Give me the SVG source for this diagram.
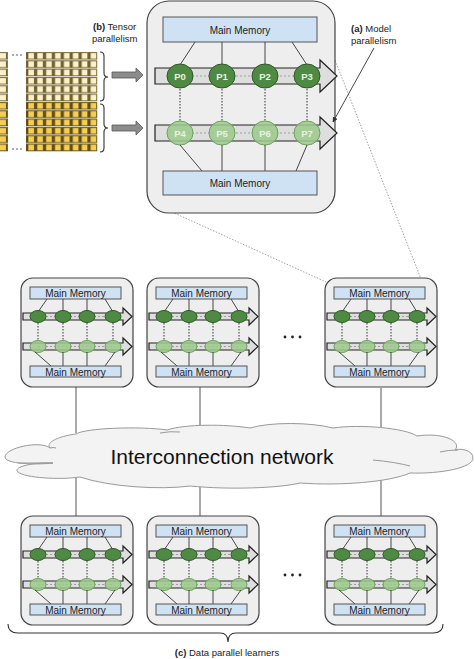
<svg xmlns="http://www.w3.org/2000/svg" width="474" height="659" viewBox="0 0 474 659">
<style>
.box{fill:#eeeeee;stroke:#444;stroke-width:1.2}
.mem{fill:#cfe2f3;stroke:#555;stroke-width:1}
.memt{font-family:"Liberation Sans",Arial,sans-serif;font-size:10px;fill:#222;text-anchor:middle}
.ln{stroke:#333;stroke-width:0.9;fill:none}
.arr{fill:#dedede;stroke:#222;stroke-width:1.2}
.dash{stroke:#999;stroke-width:0.9;stroke-dasharray:2 2;fill:none}
.dot{stroke:#333;stroke-width:1;stroke-dasharray:1.5 1.5;fill:none}
.pd{fill:#4f8a45;stroke:#2c5a22;stroke-width:1}
.pl{fill:#9cc98c;fill-opacity:0.85;stroke:#6aa35a;stroke-width:1}
.pt{font-family:"Liberation Sans",Arial,sans-serif;font-size:9.5px;font-weight:bold;fill:#e6f2e2;text-anchor:middle}
.lbl{font-family:"Liberation Sans",Arial,sans-serif;font-size:9.5px;fill:#222}
.zoom{stroke:#999;stroke-width:0.9;stroke-dasharray:1.5 1.5;fill:none}
.con{stroke:#555;stroke-width:1;fill:none}
.brace{stroke:#333;stroke-width:1.1;fill:none}
.garr{fill:#8c8c8c;stroke:#555;stroke-width:0.8}
</style>
<defs>
<pattern id="cellA" x="26" y="52" width="8.9" height="8.33" patternUnits="userSpaceOnUse">
<rect x="0.5" y="0.6" width="7.9" height="6.6" fill="#fdf1c9" stroke="#6b5a2a" stroke-width="0.9"/>
<rect x="0.5" y="0.6" width="1.8" height="6.6" fill="#6b5a2a"/>
</pattern>
<pattern id="cellB" x="26" y="52" width="8.9" height="8.33" patternUnits="userSpaceOnUse">
<rect x="0.5" y="0.6" width="7.9" height="6.6" fill="#f6cf52" stroke="#5a4810" stroke-width="0.9"/>
<rect x="0.5" y="0.6" width="1.8" height="6.6" fill="#5a4810"/>
</pattern>
<pattern id="cellAl" x="-2" y="52" width="8.9" height="8.33" patternUnits="userSpaceOnUse">
<rect x="0.5" y="0.6" width="7.9" height="6.6" fill="#fdf1c9" stroke="#6b5a2a" stroke-width="0.9"/>
</pattern>
<pattern id="cellBl" x="-2" y="52" width="8.9" height="8.33" patternUnits="userSpaceOnUse">
<rect x="0.5" y="0.6" width="7.9" height="6.6" fill="#f6cf52" stroke="#5a4810" stroke-width="0.9"/>
</pattern>
<marker id="ah" viewBox="0 0 10 10" refX="9" refY="5" markerWidth="6" markerHeight="6" orient="auto">
<path d="M0,0 L10,5 L0,10 Z" fill="#333"/>
</marker>
<g id="learner">
<rect class="box" x="0" y="0" width="112" height="109" rx="12"/>
<rect class="mem" x="9" y="9" width="91" height="12"/>
<text class="memt" x="54.5" y="18.8">Main Memory</text>
<path class="ln" d="M26,21 L17,34 M42,21 V34 M66,21 V34 M84,21 L92,34"/>
<path class="arr" d="M2,35 H102 V30 L111,38.5 L102,47 V42 H2 Z"/>
<path class="dash" d="M17,38.5 H92"/>
<path class="dot" d="M17,45 V62 M42,45 V62 M66,45 V62 M92,45 V62"/>
<ellipse class="pd" cx="17" cy="38.5" rx="8" ry="6"/>
<ellipse class="pd" cx="42" cy="38.5" rx="8" ry="6"/>
<ellipse class="pd" cx="66" cy="38.5" rx="8" ry="6"/>
<ellipse class="pd" cx="92" cy="38.5" rx="8" ry="6"/>
<path class="arr" d="M2,65 H102 V60 L111,68.5 L102,77 V72 H2 Z"/>
<path class="dash" d="M17,68.5 H92"/>
<ellipse class="pl" cx="17" cy="68.5" rx="8" ry="6"/>
<ellipse class="pl" cx="42" cy="68.5" rx="8" ry="6"/>
<ellipse class="pl" cx="66" cy="68.5" rx="8" ry="6"/>
<ellipse class="pl" cx="92" cy="68.5" rx="8" ry="6"/>
<path class="ln" d="M14,74 L30,88 M42,74 V88 M66,74 V88 M94,74 L84,88"/>
<rect class="mem" x="9" y="88" width="91" height="11"/>
<text class="memt" x="54.5" y="97.5">Main Memory</text>
</g>
</defs>
<rect width="474" height="659" fill="#ffffff"/>

<g id="tensor-grid">
<rect x="0" y="52" width="8" height="50" fill="url(#cellAl)"/>
<rect x="0" y="102" width="8" height="50" fill="url(#cellBl)"/>
<rect x="26" y="52" width="71.2" height="50" fill="url(#cellA)"/>
<rect x="26" y="102" width="71.2" height="50" fill="url(#cellB)"/>
<g fill="#888">
<circle cx="13" cy="55" r="0.9"/><circle cx="17" cy="55" r="0.9"/><circle cx="21" cy="55" r="0.9"/>
<circle cx="13" cy="149" r="0.9"/><circle cx="17" cy="149" r="0.9"/><circle cx="21" cy="149" r="0.9"/>
</g>
<path class="brace" d="M100,52 Q104,52 104,56 V73 Q104,77 108,77 Q104,77 104,81 V97 Q104,101 100,101"/>
<path class="brace" d="M100,104 Q104,104 104,108 V124 Q104,128 108,128 Q104,128 104,132 V148 Q104,152 100,152"/>
<path class="garr" d="M112,72 H136 V68 L143,75 L136,82 V78 H112 Z"/>
<path class="garr" d="M112,125 H136 V121 L143,128 L136,135 V131 H112 Z"/>
<text class="lbl" x="93" y="30"><tspan font-weight="bold">(b)</tspan> Tensor</text>
<text class="lbl" x="92" y="42">parallelism</text>
</g>

<g id="zoom-lines">
<path class="zoom" d="M172,212 L326,282"/>
<path class="zoom" d="M333,55 L421,279"/>
</g>

<g id="big-learner">
<rect class="box" x="147" y="1" width="188" height="212" rx="22"/>
<rect class="mem" x="163" y="17" width="154" height="25"/>
<text class="memt" x="240" y="33.5">Main Memory</text>
<path class="ln" d="M195,42 L180,65 M222,42 V65 M265,42 V65 M292,42 L307,65"/>
<path class="arr" d="M155,68 H320 V60 L337,76 L320,92 V84 H155 Z"/>
<path class="dash" d="M180,76 H307"/>
<path class="dot" d="M180,89 V121 M222,89 V121 M265,89 V121 M307,89 V121"/>
<ellipse class="pd" cx="180" cy="76" rx="13" ry="12"/>
<ellipse class="pd" cx="222" cy="76" rx="13" ry="12"/>
<ellipse class="pd" cx="265" cy="76" rx="13" ry="12"/>
<ellipse class="pd" cx="307" cy="76" rx="13" ry="12"/>
<text class="pt" x="180" y="79.5">P0</text>
<text class="pt" x="222" y="79.5">P1</text>
<text class="pt" x="265" y="79.5">P2</text>
<text class="pt" x="307" y="79.5">P3</text>
<path class="arr" d="M155,125 H320 V117 L337,133 L320,149 V141 H155 Z"/>
<path class="dash" d="M180,133 H307"/>
<ellipse class="pl" cx="180" cy="133" rx="13" ry="12"/>
<ellipse class="pl" cx="222" cy="133" rx="13" ry="12"/>
<ellipse class="pl" cx="265" cy="133" rx="13" ry="12"/>
<ellipse class="pl" cx="307" cy="133" rx="13" ry="12"/>
<text class="pt" x="180" y="136.5">P4</text>
<text class="pt" x="222" y="136.5">P5</text>
<text class="pt" x="265" y="136.5">P6</text>
<text class="pt" x="307" y="136.5">P7</text>
<path class="ln" d="M180,145 L202,171 M222,145 V171 M265,145 V171 M307,145 L296,171"/>
<rect class="mem" x="163" y="171" width="154" height="24"/>
<text class="memt" x="240" y="187">Main Memory</text>
</g>

<g id="model-label">
<text class="lbl" x="351" y="32"><tspan font-weight="bold">(a)</tspan> Model</text>
<text class="lbl" x="351" y="44">parallelism</text>
<path class="ln" d="M374,48 L333,122" marker-end="url(#ah)"/>
</g>

<g id="connectors">
<path class="con" d="M76,387 V433 M200,387 V428 M381,388 V427"/>
<path class="con" d="M76,478 V516 M200,486 V516 M381,480 V516"/>
</g>

<g id="learner-1"><use href="#learner" x="21" y="278"/></g>
<g id="learner-2"><use href="#learner" x="147" y="278"/></g>
<g id="learner-3"><use href="#learner" x="325" y="278"/></g>
<g id="learner-4"><use href="#learner" x="21" y="516"/></g>
<g id="learner-5"><use href="#learner" x="147" y="516"/></g>
<g id="learner-6"><use href="#learner" x="325" y="516"/></g>

<g id="ellipsis" fill="#222">
<circle cx="285" cy="337" r="1.4"/><circle cx="292.5" cy="337" r="1.4"/><circle cx="300" cy="337" r="1.4"/>
<circle cx="285" cy="575" r="1.4"/><circle cx="292.5" cy="575" r="1.4"/><circle cx="300" cy="575" r="1.4"/>
</g>

<g id="network">
<path d="M50,448 C40,440 5,448 5,457 C5,464 35,465 53,463 C30,462 12,468 18,472 C25,478 60,480 80,477 C110,487 160,490 190,486 C230,490 280,488 300,483 C340,486 390,482 410,473 C440,474 473,468 473,458 C473,450 460,448 455,450 C462,442 445,432 417,436 C405,428 360,424 333,428 C310,422 270,422 250,428 C225,424 185,424 167,430 C140,426 85,428 76,434 C60,436 45,442 50,448 Z" fill="#f3f3f3" stroke="#999" stroke-width="1"/>
<path d="M18,463 H53 M373,460 Q395,462 410,466 M440,452 Q448,450 458,450 M160,433 Q170,431 180,432 M50,448 Q53,447 56,448" fill="none" stroke="#999" stroke-width="1"/>
<text x="222" y="464" font-family="'Liberation Sans',Arial,sans-serif" font-size="21px" fill="#111" text-anchor="middle">Interconnection network</text>
</g>

<g id="data-parallel">
<path class="brace" d="M8,624 Q8,633 18,633 H220 Q228,633 228,642 Q228,633 236,633 H433 Q443,633 443,624"/>
<text class="lbl" x="227" y="656" font-size="10px" text-anchor="middle"><tspan font-weight="bold">(c)</tspan> Data parallel learners</text>
</g>
</svg>
